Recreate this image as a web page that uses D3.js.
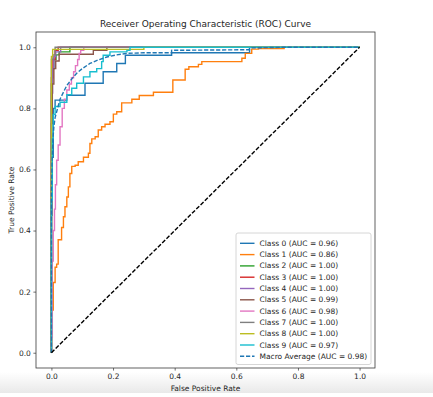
<!DOCTYPE html>
<html><head><meta charset="utf-8">
<script src="https://cdn.jsdelivr.net/npm/d3@7"></script>
<style>body{margin:0;background:#fff}svg{display:block}text{font-family:"DejaVu Sans",sans-serif;fill:#262626}</style>
</head><body>
<script>
// ---- data (fpr, tpr) ----
const class0 = [[0,0],[0,0.45],[0.002,0.45],[0.002,0.64],[0.006,0.64],[0.006,0.8],[0.012,0.8],[0.012,0.827],[0.05,0.827],[0.05,0.843],[0.109,0.843],[0.109,0.882],[0.168,0.882],[0.168,0.92],[0.212,0.92],[0.212,0.947],[0.24,0.947],[0.24,0.974],[0.39,0.974],[0.39,0.982],[0.643,0.982],[0.643,1],[1,1]];
const class1 = [[0,0],[0,0.097],[0.001,0.097],[0.001,0.14],[0.006,0.14],[0.006,0.23],[0.012,0.23],[0.012,0.28],[0.017,0.28],[0.017,0.29],[0.022,0.29],[0.022,0.37],[0.033,0.37],[0.033,0.41],[0.039,0.41],[0.039,0.445],[0.044,0.445],[0.044,0.478],[0.05,0.478],[0.05,0.51],[0.055,0.51],[0.055,0.543],[0.06,0.543],[0.06,0.587],[0.066,0.587],[0.066,0.61],[0.077,0.61],[0.077,0.614],[0.087,0.614],[0.087,0.625],[0.104,0.625],[0.104,0.64],[0.12,0.64],[0.12,0.653],[0.125,0.653],[0.125,0.685],[0.131,0.685],[0.131,0.70],[0.142,0.70],[0.142,0.707],[0.152,0.707],[0.152,0.729],[0.163,0.729],[0.163,0.74],[0.174,0.74],[0.174,0.748],[0.19,0.748],[0.19,0.756],[0.201,0.756],[0.201,0.781],[0.212,0.781],[0.212,0.789],[0.228,0.789],[0.228,0.818],[0.261,0.818],[0.261,0.83],[0.285,0.83],[0.285,0.842],[0.331,0.842],[0.331,0.853],[0.394,0.853],[0.394,0.893],[0.434,0.893],[0.434,0.928],[0.446,0.928],[0.446,0.936],[0.477,0.936],[0.477,0.944],[0.488,0.944],[0.488,0.953],[0.618,0.953],[0.618,0.964],[0.629,0.964],[0.629,0.98],[0.65,0.98],[0.65,0.994],[0.672,0.994],[0.672,0.996],[0.755,0.996],[0.755,1],[1,1]];
const class2 = [[0,0],[0,0.88],[0.003,0.88],[0.003,0.93],[0.008,0.93],[0.008,0.96],[0.015,0.96],[0.015,0.975],[0.025,0.975],[0.025,0.985],[0.06,0.985],[0.06,1],[1,1]];
const class3 = [[0,0],[0,0.9],[0.005,0.9],[0.005,0.96],[0.012,0.96],[0.012,0.99],[0.022,0.99],[0.022,1],[1,1]];
const class4 = [[0,0],[0,0.85],[0.004,0.85],[0.004,0.93],[0.008,0.93],[0.008,0.97],[0.014,0.97],[0.014,0.985],[0.03,0.985],[0.03,1],[1,1]];
const class5 = [[0,0],[0,0.75],[0.003,0.75],[0.003,0.88],[0.008,0.88],[0.008,0.93],[0.014,0.93],[0.014,0.955],[0.025,0.955],[0.025,0.977],[0.136,0.977],[0.136,0.99],[0.18,0.99],[0.18,1],[1,1]];
const class6 = [[0,0],[0,0.05],[0.003,0.05],[0.003,0.3],[0.006,0.3],[0.006,0.4],[0.01,0.4],[0.01,0.47],[0.013,0.47],[0.013,0.55],[0.017,0.55],[0.017,0.63],[0.022,0.63],[0.022,0.68],[0.028,0.68],[0.028,0.74],[0.035,0.74],[0.035,0.80],[0.042,0.80],[0.042,0.83],[0.05,0.83],[0.05,0.86],[0.058,0.86],[0.058,0.88],[0.065,0.88],[0.065,0.9],[0.072,0.9],[0.072,0.92],[0.078,0.92],[0.078,0.94],[0.085,0.94],[0.085,0.96],[0.09,0.96],[0.09,0.98],[0.095,0.98],[0.095,0.99],[0.105,0.99],[0.105,1],[1,1]];
const class7 = [[0,0],[0,0.96],[0.005,0.96],[0.005,0.975],[0.012,0.975],[0.012,1],[1,1]];
const class8 = [[0,0],[0,0.97],[0.004,0.97],[0.004,0.993],[0.3,0.993],[0.3,1],[1,1]];
const class9 = [[0,0],[0,0.5],[0.003,0.5],[0.003,0.7],[0.006,0.7],[0.006,0.78],[0.012,0.78],[0.012,0.806],[0.028,0.806],[0.028,0.82],[0.05,0.82],[0.05,0.845],[0.066,0.845],[0.066,0.866],[0.082,0.866],[0.082,0.882],[0.104,0.882],[0.104,0.903],[0.125,0.903],[0.125,0.92],[0.147,0.92],[0.147,0.93],[0.163,0.93],[0.163,0.953],[0.168,0.953],[0.168,0.974],[0.19,0.974],[0.19,0.985],[0.245,0.985],[0.245,0.99],[0.255,0.99],[0.255,1],[1,1]];
const macroAvg = [[0,0],[0,0.5],[0.002,0.62],[0.005,0.7],[0.008,0.74],[0.012,0.77],[0.02,0.8],[0.028,0.83],[0.04,0.855],[0.05,0.875],[0.065,0.895],[0.082,0.915],[0.1,0.93],[0.125,0.947],[0.15,0.958],[0.18,0.968],[0.21,0.975],[0.245,0.98],[0.3,0.982],[0.39,0.982],[0.39,0.99],[0.64,0.992],[0.65,0.998],[0.755,1],[1,1]];
const diagonal = [[0,0],[1,1]];

const classCurves = [class0,class1,class2,class3,class4,class5,class6,class7,class8,class9];
const classAUC = ["0.96","0.86","1.00","1.00","1.00","0.99","0.98","1.00","1.00","0.97"];
const macroAUC = "0.98";
const colors = ["#1f77b4","#ff7f0e","#2ca02c","#d62728","#9467bd","#8c564b","#e377c2","#7f7f7f","#bcbd22","#17becf"];
const tickValues = [0,0.2,0.4,0.6,0.8,1.0];
const title = "Receiver Operating Characteristic (ROC) Curve";
const xLabel = "False Positive Rate";
const yLabel = "True Positive Rate";

// ---- drawing ----
const W=433,H=397;
const svg=d3.select("body").append("svg").attr("width",W).attr("height",H);
const defs=svg.append("defs");
const grad=defs.append("linearGradient").attr("id","fade").attr("x1",0).attr("y1",0).attr("x2",0).attr("y2",1);
grad.append("stop").attr("offset","0%").attr("stop-color","#ffffff");
grad.append("stop").attr("offset","100%").attr("stop-color","#e9e9e9");
svg.append("rect").attr("width",W).attr("height",H).attr("fill","#fff");
svg.append("rect").attr("x",0).attr("y",372).attr("width",W).attr("height",21).attr("fill","url(#fade)");

const L=36,R=375,T=32,B=368;
const x=d3.scaleLinear().domain([-0.05,1.05]).range([L,R]);
const y=d3.scaleLinear().domain([-0.05,1.05]).range([B,T]);
const line=d3.line().x(d=>x(d[0])).y(d=>y(d[1]));
const SW=1.4;

const plot=svg.append("g");
plot.append("defs").append("clipPath").attr("id","clip").append("rect").attr("x",L).attr("y",T).attr("width",R-L).attr("height",B-T);
const curves=plot.append("g").attr("clip-path","url(#clip)");
classCurves.forEach((c,i)=>{
  curves.append("path").datum(c).attr("d",line).attr("fill","none").attr("stroke",colors[i]).attr("stroke-width",SW).attr("stroke-linejoin","miter");
});
curves.append("path").datum(macroAvg).attr("d",line).attr("fill","none").attr("stroke","#1f77b4").attr("stroke-width",SW).attr("stroke-dasharray","4.2,1.8");
curves.append("path").datum(diagonal).attr("d",line).attr("fill","none").attr("stroke","#000").attr("stroke-width",SW).attr("stroke-dasharray","4.2,1.8");

// axes
const fmt=d3.format(".1f");
const xa=svg.append("g").attr("transform",`translate(0,${B})`).call(d3.axisBottom(x).tickValues(tickValues).tickFormat(fmt).tickSize(2.6).tickPadding(2.6));
const ya=svg.append("g").attr("transform",`translate(${L},0)`).call(d3.axisLeft(y).tickValues(tickValues).tickFormat(fmt).tickSize(2.6).tickPadding(2.6));
[xa,ya].forEach(a=>{a.select(".domain").remove();a.selectAll("line").attr("stroke","#333").attr("stroke-width",0.7);a.selectAll("text").attr("font-size","7.5px").attr("fill","#262626").attr("font-family","DejaVu Sans");});
svg.append("rect").attr("x",L).attr("y",T).attr("width",R-L).attr("height",B-T).attr("fill","none").attr("stroke","#3a3a3a").attr("stroke-width",0.8);

svg.append("text").attr("x",(L+R)/2).attr("y",26.5).attr("text-anchor","middle").attr("font-size","9px").text(title);
svg.append("text").attr("x",(L+R)/2).attr("y",390.5).attr("text-anchor","middle").attr("font-size","7.5px").text(xLabel);
svg.append("text").attr("transform",`translate(11.5,${(T+B)/2}) rotate(-90)`).attr("text-anchor","middle").attr("dominant-baseline","central").attr("font-size","7.5px").text(yLabel);

// legend
const items=classAUC.map((a,i)=>({label:`Class ${i} (AUC = ${a})`,color:colors[i],dash:null}));
items.push({label:`Macro Average (AUC = ${macroAUC})`,color:"#1f77b4",dash:"4.2,1.8"});
const lg=svg.append("g");
const lx=236,ly=233,lw=135,rowH=11.3;
lg.append("rect").attr("x",lx).attr("y",ly).attr("width",lw).attr("height",B-3.5-ly).attr("rx",2).attr("fill","#fff").attr("fill-opacity",0.8).attr("stroke","#cccccc").attr("stroke-width",0.8);
items.forEach((it,i)=>{
  const cy=ly+10.3+i*rowH;
  lg.append("line").attr("x1",lx+4).attr("x2",lx+18.5).attr("y1",cy).attr("y2",cy).attr("stroke",it.color).attr("stroke-width",SW).attr("stroke-dasharray",it.dash);
  lg.append("text").attr("x",lx+23.5).attr("y",cy).attr("dominant-baseline","central").attr("font-size","7.5px").text(it.label);
});
</script>
</body></html>
